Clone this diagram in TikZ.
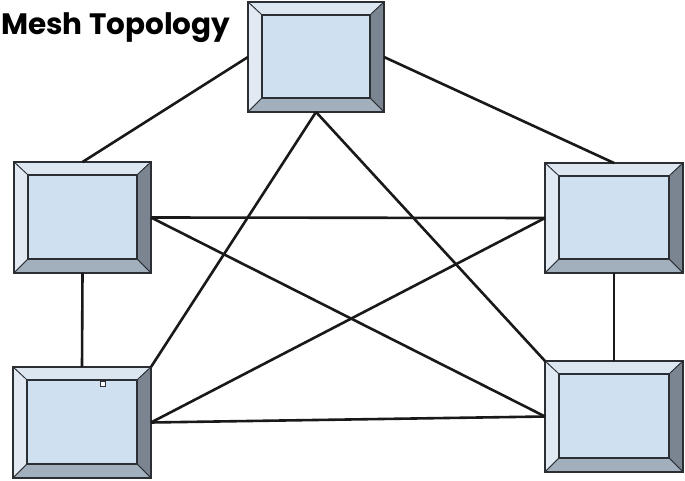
\documentclass[tikz,border=0pt]{standalone}
\usepackage{fontspec}
\newfontfamily\titlefont{Poppins}
\definecolor{innerc}{HTML}{CFE0F0}
\definecolor{bevtopc}{HTML}{DCE6F1}
\definecolor{bevleftc}{HTML}{E1E9F3}
\definecolor{bevrightc}{HTML}{7B8591}
\definecolor{bevbotc}{HTML}{A2AFBC}
\definecolor{outl}{HTML}{2B2E33}
\tikzset{
  conn/.style={line width=2.6pt, draw=black!90},
  bev/.style={draw=outl, line width=0.8pt, line join=round},
  boxnode/.style={draw=outl, line width=1.3pt, inner sep=0pt, outer sep=0pt, anchor=north west},
}
\newcommand\bevbox[5]{%
  \filldraw[bev, fill=bevtopc] (#2,#3) -- (#4,#3) -- (#4-14,#3+13) -- (#2+14,#3+13) -- cycle;
  \filldraw[bev, fill=bevleftc] (#2,#3) -- (#2+14,#3+13) -- (#2+14,#5-14) -- (#2,#5) -- cycle;
  \filldraw[bev, fill=bevrightc] (#4,#3) -- (#4-14,#3+13) -- (#4-14,#5-14) -- (#4,#5) -- cycle;
  \filldraw[bev, fill=bevbotc] (#2,#5) -- (#2+14,#5-14) -- (#4-14,#5-14) -- (#4,#5) -- cycle;
  \filldraw[bev, fill=innerc, line width=1.1pt] (#2+14,#3+13) rectangle (#4-14,#5-14);
  \node[boxnode, minimum width={(#4-#2)*1pt}, minimum height={(#5-#3)*1pt}] (#1) at (#2,#3) {};
}
\begin{document}
\begin{tikzpicture}[x=1pt,y=-1pt]
\useasboundingbox (0,0) rectangle (685,481);
\node[anchor=base west, inner sep=0pt, font=\titlefont\bfseries\fontsize{29.5}{32}\selectfont] (title) at (1,35) {Mesh Topology};
\bevbox{T}{248}{2}{384}{112}
\bevbox{LT}{14}{162}{151}{273}
\bevbox{RT}{545}{163}{683}{273}
\bevbox{LB}{13}{367}{151}{478}
\bevbox{RB}{545}{361}{683}{472}
\node[draw=outl, fill=white, line width=0.6pt, minimum size=5pt, inner sep=0pt] (handle) at (102.5,383.5) {};
\draw[conn] (T.west) -- (LT.north);
\draw[conn] (T.east) -- (RT.north);
\draw[conn] (T.south) -- (LB.north east);
\draw[conn] (T.south) -- (RB.north west);
\draw[conn] (LT.east) -- (RT.west);
\draw[conn] (LT.east) -- (RB.west);
\draw[conn] (LB.east) -- (RT.west);
\draw[conn] (LB.east) -- (RB.west);
\draw[conn] (LT.south) -- (LB.north);
\draw[conn] (RT.south) -- (RB.north);
\end{tikzpicture}
\end{document}
